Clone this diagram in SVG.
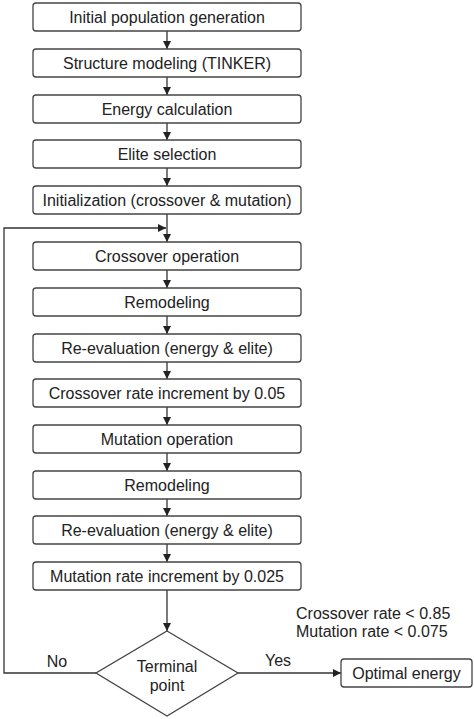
<svg xmlns="http://www.w3.org/2000/svg" width="474" height="719" viewBox="0 0 474 719">
<style>
.box{fill:#fff;stroke:#444;stroke-width:1.3}
.t{font-family:"Liberation Sans",Arial,sans-serif;font-size:16px;fill:#222;text-anchor:middle}
.l{font-family:"Liberation Sans",Arial,sans-serif;font-size:16px;fill:#222}
.c{fill:none;stroke:#333;stroke-width:1.3}
</style>
<defs>
<marker id="ah" viewBox="0 0 10 10" refX="10" refY="5" markerWidth="8" markerHeight="8" markerUnits="userSpaceOnUse" orient="auto">
<path d="M0,0 L10,5 L0,10 Z" fill="#222"/>
</marker>
</defs>
<rect width="474" height="719" fill="#fff"/>
<g id="connectors">
<line class="c" x1="167" y1="31" x2="167" y2="49" marker-end="url(#ah)"/>
<line class="c" x1="167" y1="77" x2="167" y2="95" marker-end="url(#ah)"/>
<line class="c" x1="167" y1="123" x2="167" y2="140" marker-end="url(#ah)"/>
<line class="c" x1="167" y1="168" x2="167" y2="186" marker-end="url(#ah)"/>
<line class="c" x1="167" y1="214" x2="167" y2="242" marker-end="url(#ah)"/>
<line class="c" x1="167" y1="270" x2="167" y2="288" marker-end="url(#ah)"/>
<line class="c" x1="167" y1="316" x2="167" y2="334" marker-end="url(#ah)"/>
<line class="c" x1="167" y1="362" x2="167" y2="379" marker-end="url(#ah)"/>
<line class="c" x1="167" y1="407" x2="167" y2="425" marker-end="url(#ah)"/>
<line class="c" x1="167" y1="453" x2="167" y2="471" marker-end="url(#ah)"/>
<line class="c" x1="167" y1="499" x2="167" y2="516" marker-end="url(#ah)"/>
<line class="c" x1="167" y1="544" x2="167" y2="562" marker-end="url(#ah)"/>
<line class="c" x1="167" y1="590" x2="167" y2="631" marker-end="url(#ah)"/>
<polyline class="c" points="96,673 4,673 4,228 166,228" marker-end="url(#ah)"/>
<line class="c" x1="238" y1="673" x2="341" y2="673" marker-end="url(#ah)"/>
</g>
<g id="n1"><rect class="box" x="33" y="3" width="268" height="28" rx="3"/><text class="t" x="167" y="22.5">Initial population generation</text></g>
<g id="n2"><rect class="box" x="33" y="49" width="268" height="28" rx="3"/><text class="t" x="167" y="68.5">Structure modeling (TINKER)</text></g>
<g id="n3"><rect class="box" x="33" y="95" width="268" height="28" rx="3"/><text class="t" x="167" y="114.5">Energy calculation</text></g>
<g id="n4"><rect class="box" x="33" y="140" width="268" height="28" rx="3"/><text class="t" x="167" y="159.5">Elite selection</text></g>
<g id="n5"><rect class="box" x="33" y="186" width="268" height="28" rx="3"/><text class="t" x="167" y="205.5">Initialization (crossover &amp; mutation)</text></g>
<g id="n6"><rect class="box" x="33" y="242" width="268" height="28" rx="3"/><text class="t" x="167" y="261.5">Crossover operation</text></g>
<g id="n7"><rect class="box" x="33" y="288" width="268" height="28" rx="3"/><text class="t" x="167" y="307.5">Remodeling</text></g>
<g id="n8"><rect class="box" x="33" y="334" width="268" height="28" rx="3"/><text class="t" x="167" y="353.5">Re-evaluation (energy &amp; elite)</text></g>
<g id="n9"><rect class="box" x="33" y="379" width="268" height="28" rx="3"/><text class="t" x="167" y="398.5">Crossover rate increment by 0.05</text></g>
<g id="n10"><rect class="box" x="33" y="425" width="268" height="28" rx="3"/><text class="t" x="167" y="444.5">Mutation operation</text></g>
<g id="n11"><rect class="box" x="33" y="471" width="268" height="28" rx="3"/><text class="t" x="167" y="490.5">Remodeling</text></g>
<g id="n12"><rect class="box" x="33" y="516" width="268" height="28" rx="3"/><text class="t" x="167" y="535.5">Re-evaluation (energy &amp; elite)</text></g>
<g id="n13"><rect class="box" x="33" y="562" width="268" height="28" rx="3"/><text class="t" x="167" y="581.5">Mutation rate increment by 0.025</text></g>
<g id="decision"><polygon class="box" points="167,631 238,673 167,716 96,673"/><text class="t" x="167" y="672">Terminal</text><text class="t" x="167" y="691">point</text></g>
<g id="optimal"><rect class="box" x="341" y="659" width="131" height="28" rx="3"/><text class="t" x="406.5" y="678.5">Optimal energy</text></g>
<g id="labels">
<text class="t" x="57" y="667">No</text>
<text class="t" x="278" y="666">Yes</text>
<text class="l" x="296" y="619">Crossover rate &lt; 0.85</text>
<text class="l" x="296" y="637">Mutation rate &lt; 0.075</text>
</g>
</svg>
